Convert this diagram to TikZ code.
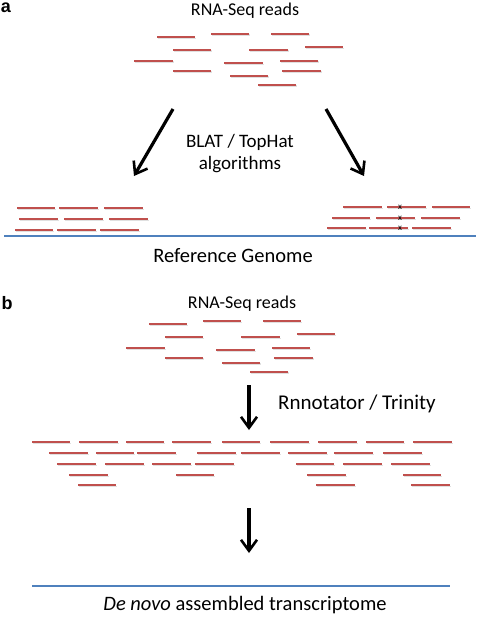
\documentclass[tikz,border=0pt]{standalone}
\usepackage{fontspec}
\setmainfont{Carlito}
\newfontfamily\panelfont{Liberation Sans}
\usetikzlibrary{arrows.meta}
\definecolor{readred}{HTML}{C0504D}
\definecolor{genblue}{HTML}{4F81BD}
\tikzset{
  readline/.style={readred, line width=2.2pt},
  shadowline/.style={black!12, line width=1.6pt},
  genome/.style={genblue, line width=2.2pt},
  bigarrow/.style={line width=3.2pt, -{Straight Barb[length=11pt,width=16pt,line width=2.6pt]}},
  txt/.style={font=\fontsize{#1}{#1}\selectfont, inner sep=0pt},
  txt/.default=18,
  panel/.style={font=\panelfont\bfseries\fontsize{18}{20}\selectfont, inner sep=0pt},
  xmark/.style={font=\fontsize{9}{10}\selectfont, inner sep=0pt}
}
\newcommand\rd[3]{\draw[shadowline] (#1+0.8,#3+1.3) -- (#2+0.8,#3+1.3); \draw[readline] (#1,#3) -- (#2,#3);}
\newcommand\readcloud{%
  \rd{157}{195}{37.3}\rd{211}{249}{34}\rd{271}{309}{34}
  \rd{173}{211}{50}\rd{249}{288}{50}\rd{305}{343}{47.3}
  \rd{134}{173}{61}\rd{224}{263}{63.3}\rd{280}{318}{61}
  \rd{173}{211}{70.7}\rd{282}{321}{70.7}
  \rd{230}{268}{75.7}\rd{258}{296}{84.7}}
\begin{document}
\begin{tikzpicture}[x=1pt,y=-1pt]
\useasboundingbox[fill=white] (0,0) rectangle (480,618);
% ---------- panel a ----------
\node[panel] (pa) at (6,8) {a};
\node[txt=18] (ta) at (245,11) {RNA-Seq reads};
\readcloud
\coordinate (a1s) at (173,109);
\coordinate (a1e) at (134,176);
\coordinate (a2s) at (326,109);
\coordinate (a2e) at (364,176);
\draw[bigarrow] (a1s) -- (a1e);
\draw[bigarrow] (a2s) -- (a2e);
\node[txt=19, align=center] (alg) at (240,154) {BLAT / TopHat\\[3pt]algorithms};
% left aligned reads
\rd{17}{55}{208.3}\rd{59}{98}{208.3}\rd{104}{143}{208.3}
\rd{19}{58}{219}\rd{64}{103}{219}\rd{109}{148}{219}
\rd{15}{53}{230}\rd{57}{96}{230}\rd{100}{139}{230}
% right spliced reads
\rd{343}{382}{207.3}\rd{387}{426}{207.3}\rd{432}{470}{207.3}
\rd{332}{370}{218.3}\rd{376}{415}{218.3}\rd{421}{460}{218.3}
\rd{327}{366}{228.3}\rd{369}{408}{228.3}\rd{412}{451}{228.3}
\node[xmark] (x1) at (400,207.3) {x};
\node[xmark] (x2) at (400,218.3) {x};
\node[xmark] (x3) at (400,228.3) {x};
\coordinate (g1a) at (4,236);
\coordinate (g1b) at (476,236);
\draw[genome] (g1a) -- (g1b);
\node[txt=20.5] (refg) at (233,256) {Reference Genome};
% ---------- panel b ----------
\node[panel] (pb) at (7,303) {b};
\node[txt=18] (tb) at (242,304) {RNA-Seq reads};
\begin{scope}[shift={(-8,287)}]
\readcloud
\end{scope}
\coordinate (b1s) at (249,385);
\coordinate (b1e) at (249,430);
\draw[bigarrow] (b1s) -- (b1e);
\node[txt=21, anchor=west] (rt) at (278,404) {Rnnotator / Trinity};
% assembled contigs
\rd{32}{70}{442.3}\rd{79}{118}{442.3}\rd{126}{164}{442.3}\rd{172}{211}{442.3}\rd{222}{260}{442.3}
\rd{270}{309}{442.3}\rd{318}{357}{442.3}\rd{366}{404}{442.3}\rd{413}{452}{442.3}
\rd{49}{88}{453.3}\rd{96}{134}{453.3}\rd{137}{176}{453.3}\rd{197}{236}{453.3}
\rd{241}{280}{453.3}\rd{288}{327}{453.3}\rd{334}{373}{453.3}\rd{383}{422}{453.3}
\rd{57}{96}{464.3}\rd{105}{144}{464.3}\rd{152}{191}{464.3}\rd{195}{234}{464.3}
\rd{296}{334}{464.3}\rd{343}{382}{464.3}\rd{391}{430}{464.3}
\rd{69}{108}{475.3}\rd{176}{214}{475.3}\rd{307}{346}{475.3}\rd{403}{441}{475.3}
\rd{78}{116}{485}\rd{316}{355}{485}\rd{411}{450}{485}
\coordinate (b2s) at (249,508);
\coordinate (b2e) at (249,553);
\draw[bigarrow] (b2s) -- (b2e);
\coordinate (g2a) at (32,585.7);
\coordinate (g2b) at (450,585.7);
\draw[genome] (g2a) -- (g2b);
\node[txt=20.5] (dn) at (245,605) {\textit{De novo} assembled transcriptome};
\end{tikzpicture}
\end{document}
